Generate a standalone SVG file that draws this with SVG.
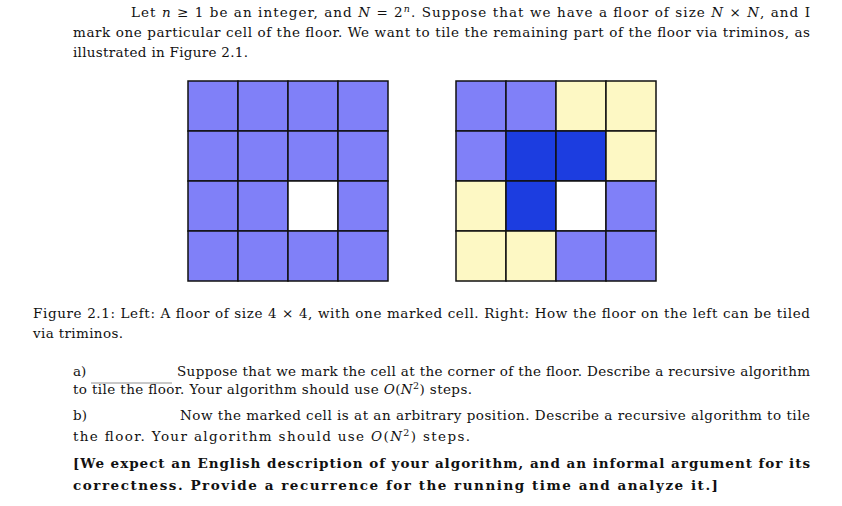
<svg xmlns="http://www.w3.org/2000/svg" width="842" height="506" viewBox="0 0 842 506">
<style>
text{font-family:"DejaVu Serif","Liberation Serif",serif;font-size:13.5px;fill:#111}
.b{font-weight:bold}
.c{stroke:#111;stroke-width:1.5}
.p{fill:#8080f8}.y{fill:#fdf8c4}.d{fill:#1c3de0}.w{fill:#fff}
</style>
<rect width="842" height="506" fill="#fff"/>
<text x="131" y="17" textLength="679" lengthAdjust="spacing">Let <tspan font-style="italic">n</tspan> ≥ 1 be an integer, and <tspan font-style="italic">N</tspan> = 2<tspan font-size="9.5" dy="-5" font-style="italic">n</tspan><tspan dy="5">. Suppose that we have a floor of size <tspan font-style="italic">N</tspan> × <tspan font-style="italic">N</tspan>, and I</tspan></text>
<text x="73" y="37" textLength="737" lengthAdjust="spacing">mark one particular cell of the floor. We want to tile the remaining part of the floor via triminos, as</text>
<text x="73" y="57" textLength="175" lengthAdjust="spacing">illustrated in Figure 2.1.</text>
<g id="left-floor">
<rect class="p c" x="188" y="81" width="50" height="50"/><rect class="p c" x="238" y="81" width="50" height="50"/><rect class="p c" x="288" y="81" width="50" height="50"/><rect class="p c" x="338" y="81" width="50" height="50"/>
<rect class="p c" x="188" y="131" width="50" height="50"/><rect class="p c" x="238" y="131" width="50" height="50"/><rect class="p c" x="288" y="131" width="50" height="50"/><rect class="p c" x="338" y="131" width="50" height="50"/>
<rect class="p c" x="188" y="181" width="50" height="50"/><rect class="p c" x="238" y="181" width="50" height="50"/><rect class="w c" x="288" y="181" width="50" height="50"/><rect class="p c" x="338" y="181" width="50" height="50"/>
<rect class="p c" x="188" y="231" width="50" height="50"/><rect class="p c" x="238" y="231" width="50" height="50"/><rect class="p c" x="288" y="231" width="50" height="50"/><rect class="p c" x="338" y="231" width="50" height="50"/>
</g>
<g id="right-floor">
<rect class="p c" x="456" y="81" width="50" height="50"/><rect class="p c" x="506" y="81" width="50" height="50"/><rect class="y c" x="556" y="81" width="50" height="50"/><rect class="y c" x="606" y="81" width="50" height="50"/>
<rect class="p c" x="456" y="131" width="50" height="50"/><rect class="d c" x="506" y="131" width="50" height="50"/><rect class="d c" x="556" y="131" width="50" height="50"/><rect class="y c" x="606" y="131" width="50" height="50"/>
<rect class="y c" x="456" y="181" width="50" height="50"/><rect class="d c" x="506" y="181" width="50" height="50"/><rect class="w c" x="556" y="181" width="50" height="50"/><rect class="p c" x="606" y="181" width="50" height="50"/>
<rect class="y c" x="456" y="231" width="50" height="50"/><rect class="y c" x="506" y="231" width="50" height="50"/><rect class="p c" x="556" y="231" width="50" height="50"/><rect class="p c" x="606" y="231" width="50" height="50"/>
</g>
<text x="33" y="318" textLength="777" lengthAdjust="spacing">Figure 2.1: Left: A floor of size 4 × 4, with one marked cell. Right: How the floor on the left can be tiled</text>
<text x="33" y="338" textLength="90" lengthAdjust="spacing">via triminos.</text>
<text x="73" y="376">a)</text>
<line x1="91" y1="383" x2="172" y2="383" stroke="#777" stroke-width="0.8"/>
<text x="177" y="376" textLength="633" lengthAdjust="spacing">Suppose that we mark the cell at the corner of the floor. Describe a recursive algorithm</text>
<text x="73" y="394" textLength="399" lengthAdjust="spacing">to tile the floor. Your algorithm should use <tspan font-style="italic">O</tspan>(<tspan font-style="italic">N</tspan><tspan font-size="9.5" dy="-5">2</tspan><tspan dy="5">) steps.</tspan></text>
<text x="73" y="420">b)</text>
<text x="180" y="420" textLength="630" lengthAdjust="spacing">Now the marked cell is at an arbitrary position. Describe a recursive algorithm to tile</text>
<text x="73" y="441" textLength="397" lengthAdjust="spacing">the floor. Your algorithm should use <tspan font-style="italic">O</tspan>(<tspan font-style="italic">N</tspan><tspan font-size="9.5" dy="-5">2</tspan><tspan dy="5">) steps.</tspan></text>
<text class="b" x="73" y="468" textLength="737" lengthAdjust="spacing">[We expect an English description of your algorithm, and an informal argument for its</text>
<text class="b" x="73" y="490" textLength="645" lengthAdjust="spacing">correctness. Provide a recurrence for the running time and analyze it.]</text>
</svg>
